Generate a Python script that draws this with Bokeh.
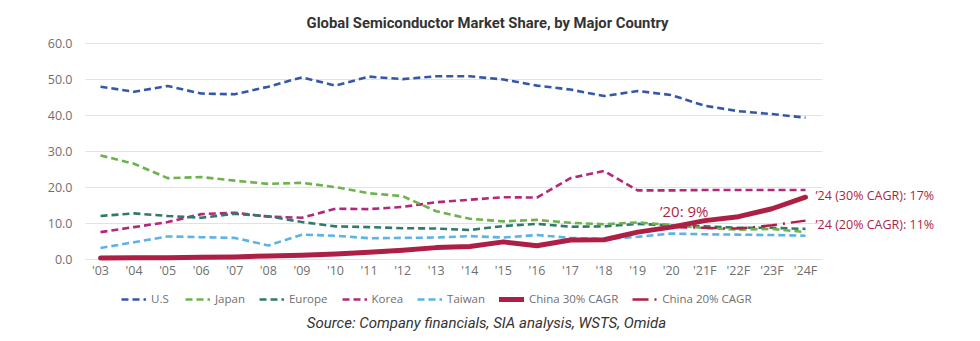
from bokeh.plotting import figure
from bokeh.models import Range1d, Legend, LegendItem, Label
from bokeh.core.properties import value
from bokeh.embed import file_html
from bokeh.resources import INLINE

# ---------------- data ----------------
years = ["'03", "'04", "'05", "'06", "'07", "'08", "'09", "'10", "'11", "'12", "'13",
         "'14", "'15", "'16", "'17", "'18", "'19", "'20", "'21F", "'22F", "'23F", "'24F"]
us = [48.0, 46.6, 48.2, 46.1, 45.9, 48.0, 50.6, 48.3, 50.8, 50.1, 50.9,
      50.9, 50.0, 48.3, 47.2, 45.4, 46.8, 45.7, 42.7, 41.2, 40.4, 39.4]
japan = [28.9, 26.6, 22.6, 22.9, 21.9, 21.0, 21.3, 20.1, 18.4, 17.6, 13.4,
         11.3, 10.6, 11.0, 10.2, 9.8, 10.3, 9.6, 8.7, 8.3, 8.5, 7.6]
europe = [12.1, 12.8, 12.1, 11.6, 12.7, 12.0, 10.4, 9.2, 9.0, 8.7, 8.6,
          8.2, 9.3, 9.9, 9.1, 9.2, 9.9, 9.5, 9.2, 8.8, 8.8, 8.5]
korea = [7.6, 9.0, 10.4, 12.6, 13.0, 11.9, 11.6, 14.1, 14.0, 14.6, 15.9,
         16.6, 17.3, 17.2, 22.6, 24.6, 19.2, 19.2, 19.3, 19.3, 19.3, 19.3]
taiwan = [3.2, 4.8, 6.4, 6.2, 6.0, 3.9, 6.9, 6.6, 5.9, 6.0, 6.1,
          6.5, 6.1, 6.8, 6.0, 5.7, 6.3, 7.2, 7.0, 6.9, 6.8, 6.6]
china30 = [0.4, 0.5, 0.5, 0.6, 0.7, 1.0, 1.2, 1.5, 2.0, 2.6, 3.3,
           3.6, 4.9, 3.8, 5.4, 5.5, 7.6, 9.0, 10.8, 11.9, 14.1, 17.3]
china20_years = ["'20", "'21F", "'22F", "'23F", "'24F"]
china20 = [9.0, 8.8, 8.6, 9.5, 10.8]

y_ticks = [0, 10, 20, 30, 40, 50, 60]
y_tick_labels = ["0.0", "10.0", "20.0", "30.0", "40.0", "50.0", "60.0"]

title_text = "Global Semiconductor Market Share, by Major Country"
source_text = "Source: Company financials, SIA analysis, WSTS, Omida"
note_20 = "\u201920: 9%"
note_30 = "\u201924 (30% CAGR): 17%"
note_20c = "\u201924 (20% CAGR): 11%"

# ---------------- layout (pixels) ----------------
W, H = 980, 341
GRID_L, GRID_R = 85, 822                 # horizontal extent of the grid lines
X0_PX, X1_PX = 100, 805                  # pixel of first / last year
Y0_PX, Y60_PX = 259, 43                  # pixel of 0 and 60
YLAB_R = 72                              # right edge of y tick labels
XLAB_Y = 270                             # centre of x tick labels

n = len(years)
xs = list(range(n))
ppx = (X1_PX - X0_PX) / (n - 1)
ppy = (Y0_PX - Y60_PX) / 60.0
# frame covers the whole canvas
x_start = -X0_PX / ppx
x_end = x_start + W / ppx
y_start = -(H - Y0_PX) / ppy
y_end = y_start + H / ppy


def dx(px):
    return x_start + px / ppx


def dy(py):
    return y_start + (H - py) / ppy


FONT = "Open Sans"
CRIMSON = "#ad1f45"
GRAY = "#6f6f6f"

p = figure(width=W, height=H, output_backend="svg", toolbar_location=None,
           x_range=Range1d(x_start, x_end), y_range=Range1d(y_start, y_end),
           x_axis_location=None, y_axis_location=None,
           min_border=0, min_border_left=0, min_border_right=0,
           min_border_top=0, min_border_bottom=0, title=None)
p.outline_line_color = None
p.background_fill_color = "white"
p.border_fill_color = "white"
p.xgrid.visible = False
p.ygrid.visible = False

# grid lines at the y ticks
p.segment(x0=[dx(GRID_L)] * len(y_ticks), y0=y_ticks,
          x1=[dx(GRID_R)] * len(y_ticks), y1=y_ticks,
          line_color="#e2e2e2", line_width=1.2)

# tick labels
p.text(x=[dx(YLAB_R)] * len(y_ticks), y=y_ticks, text=y_tick_labels,
       text_align="right", text_baseline="middle", text_font=value(FONT),
       text_font_size="12.5px", text_color=GRAY)
p.text(x=xs, y=[dy(XLAB_Y)] * n, text=years,
       text_align="center", text_baseline="middle", text_font=value(FONT),
       text_font_size="12.5px", text_color=GRAY)

idx20 = [years.index(y) for y in china20_years]

dash = "7 4"
r_tw = p.line(xs, taiwan, line_color="#5bb3e6", line_width=2.6, line_dash=dash)
r_ko = p.line(xs, korea, line_color="#b3287a", line_width=2.6, line_dash=dash)
r_eu = p.line(xs, europe, line_color="#2f7a6b", line_width=2.6, line_dash=dash)
r_jp = p.line(xs, japan, line_color="#6cb24e", line_width=2.6, line_dash=dash)
r_us = p.line(xs, us, line_color="#3457a8", line_width=2.6, line_dash=dash)
r_c20 = p.line(idx20, china20, line_color=CRIMSON, line_width=2.4, line_dash="16 6 2 6")
r_c30 = p.line(xs, china30, line_color=CRIMSON, line_width=5, line_join="round", line_cap="round")

legend = Legend(items=[
    LegendItem(label="U.S", renderers=[r_us]),
    LegendItem(label="Japan", renderers=[r_jp]),
    LegendItem(label="Europe", renderers=[r_eu]),
    LegendItem(label="Korea", renderers=[r_ko]),
    LegendItem(label="Taiwan", renderers=[r_tw]),
    LegendItem(label="China 30% CAGR", renderers=[r_c30]),
    LegendItem(label="China 20% CAGR", renderers=[r_c20]),
], orientation="horizontal", location=(121, H - 306),
    label_text_font=FONT, label_text_font_size="11.5px", label_text_color=GRAY,
    glyph_width=25, glyph_height=14, label_height=14, label_standoff=5, spacing=14,
    padding=2, margin=0, border_line_color=None, background_fill_alpha=0)
p.add_layout(legend, "center")

# title and source
p.add_layout(Label(x=dx(487), y=dy(22), text=title_text, text_align="center",
                   text_baseline="middle", text_font="Roboto", text_font_style="bold",
                   text_font_size="14.8px", text_color="#333333"))
p.add_layout(Label(x=dx(486), y=dy(322), text=source_text, text_align="center",
                   text_baseline="middle", text_font="Roboto", text_font_style="italic",
                   text_font_size="15px", text_color="#333333"))

# annotations
i20 = years.index("'20")
p.add_layout(Label(x=i20, y=china30[i20], text=note_20, x_offset=13, y_offset=16,
                   text_align="center", text_baseline="middle", text_font=FONT,
                   text_font_size="15px", text_color=CRIMSON))
last = n - 1
p.add_layout(Label(x=last, y=china30[last], text=note_30, x_offset=10, y_offset=2,
                   text_align="left", text_baseline="middle", text_font=FONT,
                   text_font_size="12.5px", text_color=CRIMSON))
p.add_layout(Label(x=idx20[-1], y=china20[-1], text=note_20c, x_offset=10, y_offset=-4,
                   text_align="left", text_baseline="middle", text_font=FONT,
                   text_font_size="12.5px", text_color=CRIMSON))

open("out.html", "w").write(file_html(p, INLINE))
